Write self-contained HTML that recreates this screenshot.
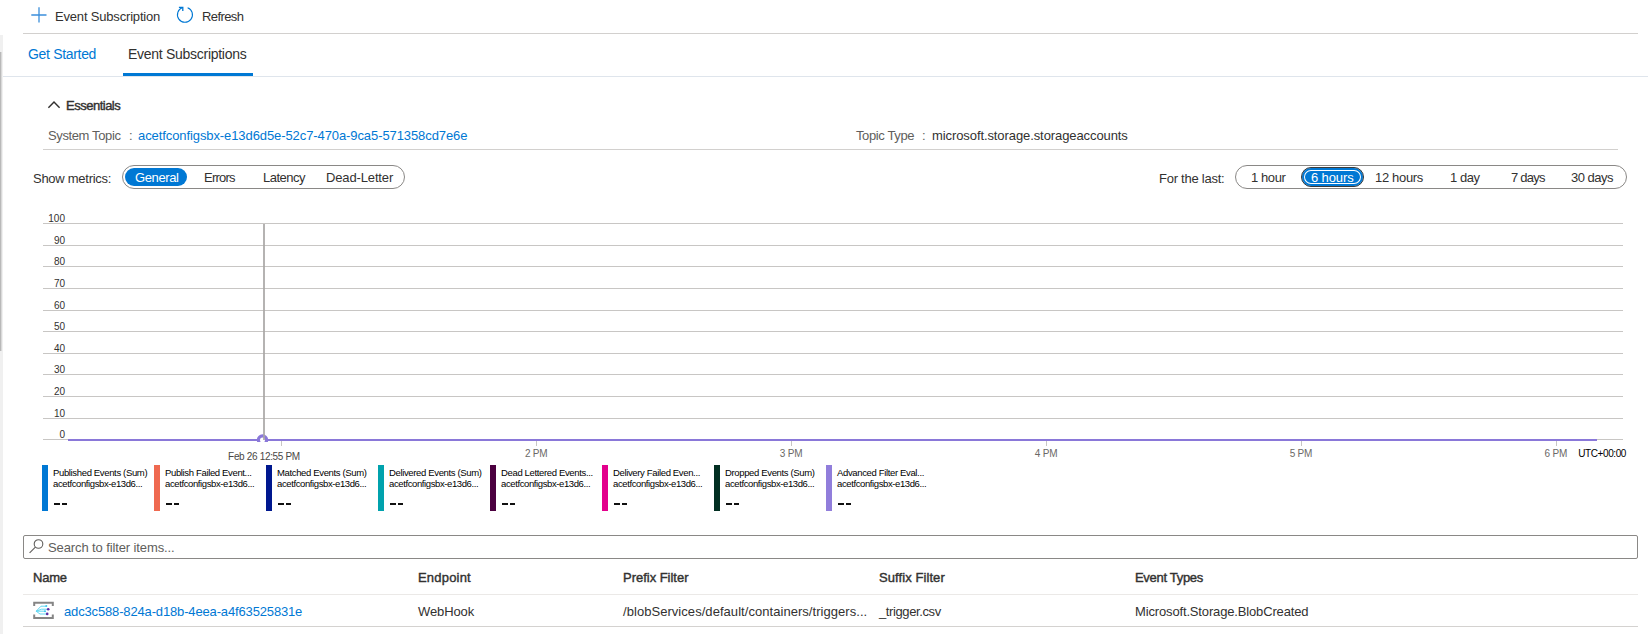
<!DOCTYPE html>
<html><head><meta charset="utf-8">
<style>
html,body{margin:0;padding:0;width:1648px;height:634px;overflow:hidden;background:#fff;}
body{position:relative;font-family:"Liberation Sans",sans-serif;color:#323130;}
.a{position:absolute;}
.t{position:absolute;line-height:1;white-space:nowrap;}
.s14{font-size:14px;}
.s13{font-size:13px;}
.s10{font-size:10px;}
.b{font-weight:normal;-webkit-text-stroke:0.4px #323130;}
.blue{color:#0078d4;}
.gray{color:#605e5c;}
.hl{position:absolute;height:1px;}
</style></head><body>
<!-- left scrollbar -->
<div class="a" style="left:0;top:35px;width:3px;height:599px;background:#f0f0f0"></div>
<div class="a" style="left:0;top:52px;width:1px;height:299px;background:#b9b9b9"></div><div class="a" style="left:1px;top:52px;width:1px;height:299px;background:#d9d9d9"></div>

<!-- toolbar -->
<svg class="a" style="left:30px;top:7px" width="18" height="18" viewBox="0 0 18 18"><path d="M9 0.3V15.5M1.3 8H16.5" stroke="#3b8fdb" stroke-width="1.3" fill="none"/></svg>
<div class="t s13" style="left:55px;top:10px;letter-spacing:-0.18px">Event Subscription</div>
<svg class="a" style="left:170px;top:2px" width="30" height="26" viewBox="0 0 30 26"><path d="M17.6 5.7A7.5 7.5 0 1 1 12.6 5.6" stroke="#0078d4" stroke-width="1.1" fill="none"/><path d="M8.9 5.3H12.8V9" stroke="#0078d4" stroke-width="1.3" fill="none"/></svg>
<div class="t s13" style="left:202px;top:10px;letter-spacing:-0.6px">Refresh</div>
<div class="hl" style="left:23px;top:33px;width:1615px;background:#d2d0ce"></div>

<!-- tabs -->
<div class="t s14 blue" style="left:28px;top:47px;letter-spacing:-0.32px">Get Started</div>
<div class="t s14" style="left:128px;top:47px;letter-spacing:-0.28px">Event Subscriptions</div>
<div class="a" style="left:123px;top:73px;width:130px;height:3px;background:#0078d4"></div>
<div class="hl" style="left:3px;top:76px;width:1645px;background:#dfe5ec"></div>

<!-- essentials -->
<svg class="a" style="left:47px;top:100px" width="14" height="10" viewBox="0 0 14 10"><path d="M1.4 7.7L7 2.1L12.6 7.7" stroke="#323130" stroke-width="1.45" fill="none"/></svg>
<div class="t s13 b" style="left:66px;top:99px;letter-spacing:-0.5px">Essentials</div>
<div class="t s13 gray" style="left:48px;top:129px;letter-spacing:-0.38px">System Topic</div>
<div class="t s13 gray" style="left:129px;top:129px">:</div>
<div class="t s13 blue" style="left:138px;top:129px;letter-spacing:-0.09px">acetfconfigsbx-e13d6d5e-52c7-470a-9ca5-571358cd7e6e</div>
<div class="t s13 gray" style="left:856px;top:129px;letter-spacing:-0.38px">Topic Type</div>
<div class="t s13 gray" style="left:922px;top:129px">:</div>
<div class="t s13" style="left:932px;top:129px;letter-spacing:-0.09px">microsoft.storage.storageaccounts</div>
<div class="hl" style="left:43px;top:149px;width:1575px;background:#d2d0ce"></div>

<!-- show metrics -->
<div class="t s13" style="left:33px;top:172px;letter-spacing:-0.27px">Show metrics:</div>
<div class="a" style="left:122px;top:165px;width:281px;height:22px;border:1px solid #8a8886;border-radius:12px"></div>
<div class="a" style="left:125px;top:168px;width:62px;height:18px;background:#0078d4;border-radius:9px"></div>
<div class="t s13" style="left:135px;top:171px;color:#fff;letter-spacing:-0.38px">General</div>
<div class="t s13" style="left:204px;top:171px;letter-spacing:-0.76px">Errors</div>
<div class="t s13" style="left:263px;top:171px;letter-spacing:-0.5px">Latency</div>
<div class="t s13" style="left:326px;top:171px;letter-spacing:-0.14px">Dead-Letter</div>

<!-- time range -->
<div class="t s13" style="left:1159px;top:172px;letter-spacing:-0.25px">For the last:</div>
<div class="a" style="left:1235px;top:165px;width:390px;height:22px;border:1px solid #8a8886;border-radius:12px"></div>
<div class="a" style="left:1301px;top:167px;width:61px;height:18px;border:1px solid #3b3a39;border-radius:10px;background:#0078d4;box-shadow:inset 0 0 0 2px #0078d4,inset 0 0 0 3px #fff"></div>
<div class="t s13" style="left:1251px;top:171px;letter-spacing:-0.4px">1 hour</div>
<div class="t s13" style="left:1311px;top:171px;color:#fff;letter-spacing:-0.12px">6 hours</div>
<div class="t s13" style="left:1375px;top:171px;letter-spacing:-0.33px">12 hours</div>
<div class="t s13" style="left:1450px;top:171px;letter-spacing:-0.42px">1 day</div>
<div class="t s13" style="left:1511px;top:171px;letter-spacing:-0.74px">7 days</div>
<div class="t s13" style="left:1571px;top:171px;letter-spacing:-0.52px">30 days</div>

<!-- CHART -->
<svg class="a" style="left:0;top:0" width="1648" height="634" viewBox="0 0 1648 634">
<defs><clipPath id="pc"><rect x="0" y="200" width="1648" height="242"/></clipPath></defs>
<rect x="43" y="223" width="1580" height="1" fill="#c8c6c4"/>
<text x="65" y="222" text-anchor="end" font-size="10" fill="#323130">100</text>
<rect x="43" y="245" width="1580" height="1" fill="#c8c6c4"/>
<text x="65" y="244" text-anchor="end" font-size="10" fill="#323130">90</text>
<rect x="43" y="266" width="1580" height="1" fill="#c8c6c4"/>
<text x="65" y="265" text-anchor="end" font-size="10" fill="#323130">80</text>
<rect x="43" y="288" width="1580" height="1" fill="#c8c6c4"/>
<text x="65" y="287" text-anchor="end" font-size="10" fill="#323130">70</text>
<rect x="43" y="310" width="1580" height="1" fill="#c8c6c4"/>
<text x="65" y="309" text-anchor="end" font-size="10" fill="#323130">60</text>
<rect x="43" y="331" width="1580" height="1" fill="#c8c6c4"/>
<text x="65" y="330" text-anchor="end" font-size="10" fill="#323130">50</text>
<rect x="43" y="353" width="1580" height="1" fill="#c8c6c4"/>
<text x="65" y="352" text-anchor="end" font-size="10" fill="#323130">40</text>
<rect x="43" y="374" width="1580" height="1" fill="#c8c6c4"/>
<text x="65" y="373" text-anchor="end" font-size="10" fill="#323130">30</text>
<rect x="43" y="396" width="1580" height="1" fill="#c8c6c4"/>
<text x="65" y="395" text-anchor="end" font-size="10" fill="#323130">20</text>
<rect x="43" y="418" width="1580" height="1" fill="#c8c6c4"/>
<text x="65" y="417" text-anchor="end" font-size="10" fill="#323130">10</text>
<rect x="43" y="439" width="1580" height="1" fill="#c8c6c4"/>
<text x="65" y="438" text-anchor="end" font-size="10" fill="#323130">0</text>

<rect x="281" y="441" width="1" height="5" fill="#c8c6c4"/>
<rect x="536" y="441" width="1" height="5" fill="#c8c6c4"/>
<text x="536.2" y="456.5" text-anchor="middle" font-size="10" fill="#6b6966" letter-spacing="-0.2">2 PM</text>
<rect x="791" y="441" width="1" height="5" fill="#c8c6c4"/>
<text x="791.1" y="456.5" text-anchor="middle" font-size="10" fill="#6b6966" letter-spacing="-0.2">3 PM</text>
<rect x="1046" y="441" width="1" height="5" fill="#c8c6c4"/>
<text x="1046.0" y="456.5" text-anchor="middle" font-size="10" fill="#6b6966" letter-spacing="-0.2">4 PM</text>
<rect x="1301" y="441" width="1" height="5" fill="#c8c6c4"/>
<text x="1300.9" y="456.5" text-anchor="middle" font-size="10" fill="#6b6966" letter-spacing="-0.2">5 PM</text>
<rect x="1556" y="441" width="1" height="5" fill="#c8c6c4"/>
<text x="1555.8" y="456.5" text-anchor="middle" font-size="10" fill="#6b6966" letter-spacing="-0.2">6 PM</text>
<rect x="68" y="439" width="1529" height="2" fill="#8a78d9"/>
<g clip-path="url(#pc)"><circle cx="262.5" cy="440" r="4.1" stroke="#8a78d9" stroke-width="3.2" fill="#fff"/></g><rect x="263" y="224" width="2" height="216" fill="#a8a6a4" fill-opacity="0.85"/>
<text x="264" y="460" text-anchor="middle" font-size="10" fill="#4a4846" letter-spacing="-0.33">Feb 26 12:55 PM</text>
<text x="1626" y="456.5" text-anchor="end" font-size="10" fill="#000" letter-spacing="-0.4">UTC+00:00</text>
</svg>

<!-- LEGEND -->
<div class="a" style="left:42px;top:465px;width:6px;height:46px;background:#0078d4"></div>
<div class="t s10" style="left:53px;top:468px;color:#000;font-size:9.5px;letter-spacing:-0.35px">Published Events (Sum)</div>
<div class="t s10" style="left:53px;top:479px;color:#000;font-size:9.5px;letter-spacing:-0.39px">acetfconfigsbx-e13d6...</div>
<div class="a" style="left:54px;top:503px;width:6px;height:2px;background:#111"></div><div class="a" style="left:62px;top:503px;width:5px;height:2px;background:#111"></div>
<div class="a" style="left:154px;top:465px;width:6px;height:46px;background:#ef6950"></div>
<div class="t s10" style="left:165px;top:468px;color:#000;font-size:9.5px;letter-spacing:-0.35px">Publish Failed Event...</div>
<div class="t s10" style="left:165px;top:479px;color:#000;font-size:9.5px;letter-spacing:-0.39px">acetfconfigsbx-e13d6...</div>
<div class="a" style="left:166px;top:503px;width:6px;height:2px;background:#111"></div><div class="a" style="left:174px;top:503px;width:5px;height:2px;background:#111"></div>
<div class="a" style="left:266px;top:465px;width:6px;height:46px;background:#00188f"></div>
<div class="t s10" style="left:277px;top:468px;color:#000;font-size:9.5px;letter-spacing:-0.35px">Matched Events (Sum)</div>
<div class="t s10" style="left:277px;top:479px;color:#000;font-size:9.5px;letter-spacing:-0.39px">acetfconfigsbx-e13d6...</div>
<div class="a" style="left:278px;top:503px;width:6px;height:2px;background:#111"></div><div class="a" style="left:286px;top:503px;width:5px;height:2px;background:#111"></div>
<div class="a" style="left:378px;top:465px;width:6px;height:46px;background:#00a2ad"></div>
<div class="t s10" style="left:389px;top:468px;color:#000;font-size:9.5px;letter-spacing:-0.35px">Delivered Events (Sum)</div>
<div class="t s10" style="left:389px;top:479px;color:#000;font-size:9.5px;letter-spacing:-0.39px">acetfconfigsbx-e13d6...</div>
<div class="a" style="left:390px;top:503px;width:6px;height:2px;background:#111"></div><div class="a" style="left:398px;top:503px;width:5px;height:2px;background:#111"></div>
<div class="a" style="left:490px;top:465px;width:6px;height:46px;background:#4b003f"></div>
<div class="t s10" style="left:501px;top:468px;color:#000;font-size:9.5px;letter-spacing:-0.35px">Dead Lettered Events...</div>
<div class="t s10" style="left:501px;top:479px;color:#000;font-size:9.5px;letter-spacing:-0.39px">acetfconfigsbx-e13d6...</div>
<div class="a" style="left:502px;top:503px;width:6px;height:2px;background:#111"></div><div class="a" style="left:510px;top:503px;width:5px;height:2px;background:#111"></div>
<div class="a" style="left:602px;top:465px;width:6px;height:46px;background:#e3008c"></div>
<div class="t s10" style="left:613px;top:468px;color:#000;font-size:9.5px;letter-spacing:-0.35px">Delivery Failed Even...</div>
<div class="t s10" style="left:613px;top:479px;color:#000;font-size:9.5px;letter-spacing:-0.39px">acetfconfigsbx-e13d6...</div>
<div class="a" style="left:614px;top:503px;width:6px;height:2px;background:#111"></div><div class="a" style="left:622px;top:503px;width:5px;height:2px;background:#111"></div>
<div class="a" style="left:714px;top:465px;width:6px;height:46px;background:#022f22"></div>
<div class="t s10" style="left:725px;top:468px;color:#000;font-size:9.5px;letter-spacing:-0.35px">Dropped Events (Sum)</div>
<div class="t s10" style="left:725px;top:479px;color:#000;font-size:9.5px;letter-spacing:-0.39px">acetfconfigsbx-e13d6...</div>
<div class="a" style="left:726px;top:503px;width:6px;height:2px;background:#111"></div><div class="a" style="left:734px;top:503px;width:5px;height:2px;background:#111"></div>
<div class="a" style="left:826px;top:465px;width:6px;height:46px;background:#917edb"></div>
<div class="t s10" style="left:837px;top:468px;color:#000;font-size:9.5px;letter-spacing:-0.35px">Advanced Filter Eval...</div>
<div class="t s10" style="left:837px;top:479px;color:#000;font-size:9.5px;letter-spacing:-0.39px">acetfconfigsbx-e13d6...</div>
<div class="a" style="left:838px;top:503px;width:6px;height:2px;background:#111"></div><div class="a" style="left:846px;top:503px;width:5px;height:2px;background:#111"></div>

<!-- search -->
<div class="a" style="left:23px;top:535px;width:1613px;height:22px;border:1px solid #8a8886;border-radius:2px"></div>
<svg class="a" style="left:28px;top:538px" width="17" height="17" viewBox="0 0 17 17"><circle cx="10.5" cy="6" r="4.3" stroke="#605e5c" stroke-width="1.1" fill="none"/><path d="M7.4 9.1L1.6 14.9" stroke="#605e5c" stroke-width="1.1"/></svg>
<div class="t s13 gray" style="left:48px;top:541px;letter-spacing:-0.11px">Search to filter items...</div>

<!-- table -->
<div class="t s13 b" style="left:33px;top:571px;letter-spacing:-0.2px">Name</div>
<div class="t s13 b" style="left:418px;top:571px;letter-spacing:0.2px">Endpoint</div>
<div class="t s13 b" style="left:623px;top:571px;letter-spacing:-0.02px">Prefix Filter</div>
<div class="t s13 b" style="left:879px;top:571px;letter-spacing:0.08px">Suffix Filter</div>
<div class="t s13 b" style="left:1135px;top:571px;letter-spacing:-0.3px">Event Types</div>
<div class="hl" style="left:23px;top:594px;width:1615px;background:#ebe9e7"></div>
<svg class="a" style="left:30px;top:598px" width="28" height="24" viewBox="0 0 28 24"><path d="M4.2 8V4.7H22.8V8M4.2 16.4V20H22.8V16.4" stroke="#858585" stroke-width="2" fill="none"/><path d="M6.2 13.2L11 8.2H16M6.2 13.2L11.5 11.2H17.2M6.2 13.2H15M6.2 13.2L10 16H16.5" stroke="#50d3f0" stroke-width="0.9" fill="none"/><circle cx="16.3" cy="8.1" r="1" fill="#3cc8ee"/><circle cx="15" cy="13.3" r="1" fill="#3cc8ee"/><circle cx="18.2" cy="11.2" r="1.3" fill="#5b2ca5"/><circle cx="17.2" cy="15.9" r="1.3" fill="#5b2ca5"/></svg>
<div class="t s13 blue" style="left:64px;top:605px;letter-spacing:-0.15px">adc3c588-824a-d18b-4eea-a4f63525831e</div>
<div class="t s13" style="left:418px;top:605px;letter-spacing:-0.1px">WebHook</div>
<div class="t s13" style="left:623px;top:605px;letter-spacing:0.05px">/blobServices/default/containers/triggers...</div>
<div class="t s13" style="left:879px;top:605px;letter-spacing:-0.39px">_trigger.csv</div>
<div class="t s13" style="left:1135px;top:605px;letter-spacing:-0.15px">Microsoft.Storage.BlobCreated</div>
<div class="hl" style="left:23px;top:626px;width:1615px;background:#d4d2d0"></div>
</body></html>
